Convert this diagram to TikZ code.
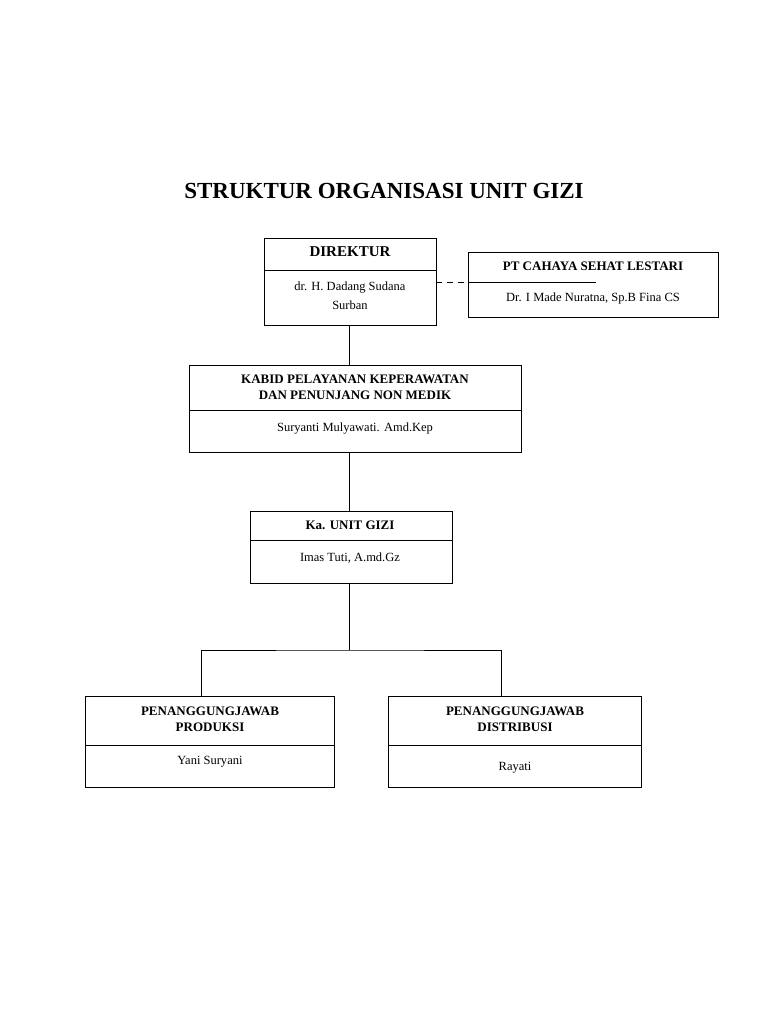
\documentclass[tikz,border=0pt]{standalone}
\usepackage{fontspec}
\setmainfont{Liberation Serif}
\begin{document}
\begin{tikzpicture}[x=1pt,y=-1pt,
  box/.style={draw,line width=0.8pt},
  ln/.style={line width=0.8pt},
  ttl/.style={font=\fontsize{13}{16}\selectfont\bfseries,align=center},
  txt/.style={font=\fontsize{12.5}{19}\selectfont,align=center}]
\useasboundingbox (0,0) rectangle (768,1024);
\node[font=\fontsize{23}{26}\selectfont\bfseries] (title) at (384,191) {STRUKTUR ORGANISASI UNIT GIZI};
% Direktur
\draw[box] (264,238) rectangle (436,325);
\coordinate (dirT) at (349,238); \coordinate (dirB) at (349,325);
\draw[ln] (264,270) -- (436,270);
\node[ttl,font=\fontsize{15}{18}\selectfont\bfseries] (dirtitle) at (350,252) {DIREKTUR};
\node[txt] (dirname) at (350,296) {dr. H. Dadang Sudana\\Surban};
% PT
\draw[box] (468,252) rectangle (718,317);
\draw[ln] (468,282) -- (596,282);
\node[ttl] (pttitle) at (593,266) {PT CAHAYA SEHAT LESTARI};
\node[txt] (ptname) at (593,298) {Dr. I Made Nuratna, Sp.B Fina CS};
\coordinate (dirR) at (436,282); \coordinate (ptL) at (468,282);
\draw[ln,dash pattern=on 6pt off 5pt] (dirR) -- (ptL);
% Kabid
\draw[box] (189,365) rectangle (521,452);
\coordinate (kabT) at (349,365); \coordinate (kabB) at (349,452);
\draw[ln] (189,410) -- (521,410);
\node[ttl] (kabtitle) at (355,387) {KABID PELAYANAN KEPERAWATAN\\DAN PENUNJANG NON MEDIK};
\node[txt] (kabname) at (355,429) {Suryanti Mulyawati. Amd.Kep};
% Ka unit
\draw[box] (250,511) rectangle (452,583);
\coordinate (kaT) at (349,511); \coordinate (kaB) at (349,583);
\draw[ln] (250,540) -- (452,540);
\node[ttl] (katitle) at (350,525) {Ka. UNIT GIZI};
\node[txt] (kaname) at (350,558) {Imas Tuti, A.md.Gz};
% Produksi
\draw[box] (85,696) rectangle (334,787);
\draw[ln] (85,745) -- (334,745);
\node[ttl] (prtitle) at (210,719) {PENANGGUNGJAWAB\\PRODUKSI};
\node[txt] (prname) at (210,762) {Yani Suryani};
% Distribusi
\draw[box] (388,696) rectangle (641,787);
\draw[ln] (388,745) -- (641,745);
\node[ttl] (dstitle) at (515,719) {PENANGGUNGJAWAB\\DISTRIBUSI};
\node[txt] (dsname) at (515,768) {Rayati};
% connectors
\coordinate (jn) at (349,650);
\coordinate (prT) at (201,696); \coordinate (dsT) at (501,696);
\draw[ln] (dirB) -- (kabT);
\draw[ln] (kabB) -- (kaT);
\draw[ln] (kaB) -- (jn);
\draw[ln] (prT) |- (jn) -| (dsT);
\end{tikzpicture}
\end{document}
